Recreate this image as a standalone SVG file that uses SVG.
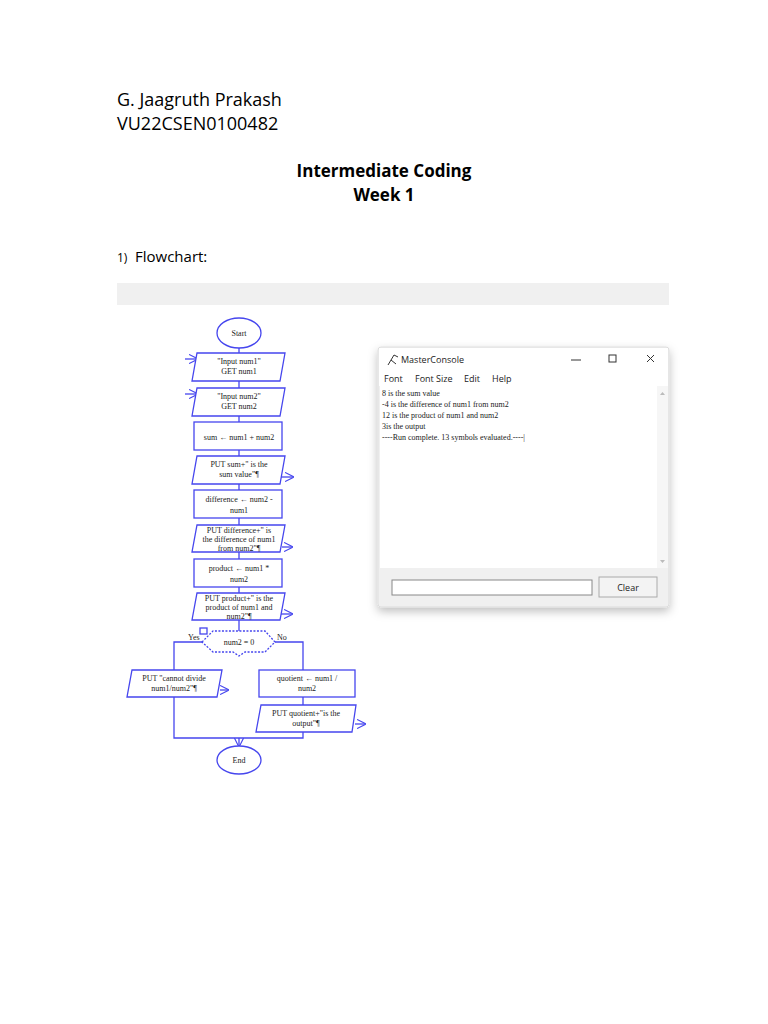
<svg xmlns="http://www.w3.org/2000/svg" width="768" height="1024" viewBox="0 0 768 1024">
<style>
.h{font-family:"Open Sans","Liberation Sans",sans-serif;fill:#000}
.b{fill:#fff;stroke:#4646ee;stroke-width:1.3}
.l{fill:none;stroke:#4646ee;stroke-width:1.3}
.t{font-family:"Liberation Serif",serif;font-size:8px;fill:#222;text-anchor:middle}
.c{font-family:"Liberation Serif",serif;font-size:8px;fill:#222}
.u{font-family:"Open Sans","Liberation Sans",sans-serif;font-size:9px;fill:#222}
</style>
<defs>
<marker id="a" viewBox="0 0 8 8" refX="7" refY="4" markerWidth="7" markerHeight="7" orient="auto"><path d="M0,0L8,4L0,8" fill="none" stroke="#4646ee"/></marker>
<filter id="s" x="-10%" y="-10%" width="120%" height="125%"><feDropShadow dx="0" dy="4" stdDeviation="5" flood-opacity="0.25"/></filter>
</defs>
<rect width="768" height="1024" fill="#fff"/>
<text class="h" x="117" y="106" font-size="18">G. Jaagruth Prakash</text>
<text class="h" x="117" y="130" font-size="18">VU22CSEN0100482</text>
<text class="h" x="384" y="177" font-size="17" font-weight="bold" text-anchor="middle">Intermediate Coding</text>
<text class="h" x="384" y="201" font-size="17" font-weight="bold" text-anchor="middle">Week 1</text>
<text class="h" x="117" y="262" font-size="12">1)</text>
<text class="h" x="135" y="262" font-size="15">Flowchart:</text>
<rect x="117" y="283" width="552" height="22" fill="#f0f0f0"/>
<g id="connectors">
<path class="l" d="M239,348V353M239,381V388M239,416V422M239,450V456M239,484V490M239,518V525M239,552V559M239,587V593M239,620V631"/>
<path class="l" d="M185,359H197" marker-end="url(#a)"/>
<path class="l" d="M185,394H197" marker-end="url(#a)"/>
<path class="l" d="M281,477H293" marker-end="url(#a)"/>
<path class="l" d="M282,547H292" marker-end="url(#a)"/>
<path class="l" d="M281,614H292" marker-end="url(#a)"/>
<path class="l" d="M202,642H174V670M275,642H303V670M303,697V705"/>
<path class="l" d="M220,690H228" marker-end="url(#a)"/>
<path class="l" d="M355,724H365" marker-end="url(#a)"/>
<path class="l" d="M174,697V738H303V732"/>
<path class="l" d="M239,738V746" marker-end="url(#a)"/>
<text class="c" x="188" y="640" font-size="7">Yes</text>
<text class="c" x="277" y="640" font-size="7">No</text>
</g>
<g id="start"><ellipse class="b" cx="239" cy="333" rx="22" ry="15"/><text class="t" x="239" y="336">Start</text></g>
<g id="in1"><polygon class="b" points="197,353 285,353 280,381 192,381"/><text class="t" x="239" y="364">"Input num1"</text><text class="t" x="239" y="374">GET num1</text></g>
<g id="in2"><polygon class="b" points="197,388 285,388 280,416 192,416"/><text class="t" x="239" y="399">"Input  num2"</text><text class="t" x="239" y="409">GET num2</text></g>
<g id="sum"><rect class="b" x="194" y="422" width="88" height="28"/><text class="t" x="239" y="440">sum ← num1 + num2</text></g>
<g id="putsum"><polygon class="b" points="197,456 285,456 280,484 192,484"/><text class="t" x="239" y="467">PUT sum+" is the</text><text class="t" x="239" y="477">sum value"¶</text></g>
<g id="diff"><rect class="b" x="194" y="490" width="88" height="28"/><text class="t" x="239" y="502">difference ← num2 -</text><text class="t" x="239" y="513">num1</text></g>
<g id="putdiff"><polygon class="b" points="197,525 285,525 280,552 192,552"/><text class="t" x="239" y="533">PUT difference+" is</text><text class="t" x="239" y="542">the difference of num1</text><text class="t" x="239" y="551">from num2"¶</text></g>
<g id="prod"><rect class="b" x="194" y="559" width="88" height="28"/><text class="t" x="239" y="571">product ← num1 *</text><text class="t" x="239" y="582">num2</text></g>
<g id="putprod"><polygon class="b" points="197,593 285,593 280,620 192,620"/><text class="t" x="239" y="601">PUT product+" is the</text><text class="t" x="239" y="610">product of num1 and</text><text class="t" x="239" y="619">num2"¶</text></g>
<g id="dec"><polygon class="b" stroke-dasharray="2,1.5" points="202,642 213,631 265,631 275,642 265,652 245,652 239,656 233,652 213,652"/><rect x="200" y="628" width="7" height="6" class="b"/><text class="t" x="239" y="645">num2 = 0</text></g>
<g id="putdiv"><polygon class="b" points="132,670 222,670 217,697 127,697"/><text class="t" x="174" y="681">PUT "cannot divide</text><text class="t" x="174" y="691">num1/num2"¶</text></g>
<g id="quot"><rect class="b" x="259" y="670" width="96" height="27"/><text class="t" x="307" y="681">quotient ← num1  /</text><text class="t" x="307" y="691">num2</text></g>
<g id="putquot"><polygon class="b" points="261,705 356,705 352,732 256,732"/><text class="t" x="306" y="716">PUT quotient+"is the</text><text class="t" x="306" y="726">output"¶</text></g>
<g id="end"><ellipse class="b" cx="239" cy="760" rx="22" ry="14"/><text class="t" x="239" y="763">End</text></g>
<g id="console">
<rect x="378" y="347" width="291" height="260" fill="#f0f0f0" stroke="#ddd" filter="url(#s)" rx="3"/>
<rect x="379" y="348" width="289" height="38" fill="#fff"/>
<path d="M388,365L394,355L398,357M391,360L396,364" stroke="#333" fill="none"/>
<text class="u" x="401" y="363" font-size="10">MasterConsole</text>
<path d="M571,360H581" stroke="#333"/>
<rect x="609" y="355" width="7" height="7" fill="none" stroke="#333"/>
<path d="M647,355L654,362M654,355L647,362" stroke="#333"/>
<text class="u" x="384" y="382">Font</text><text class="u" x="415" y="382">Font Size</text><text class="u" x="464" y="382">Edit</text><text class="u" x="492" y="382">Help</text>
<rect x="380" y="386" width="277" height="182" fill="#fff"/>
<rect x="657" y="386" width="11" height="182" fill="#f6f6f6"/>
<path d="M660,395L662.5,392L665,395ZM660,560L662.5,563L665,560Z" fill="#bbb"/>
<text class="c" x="382" y="396">8 is the sum value</text>
<text class="c" x="382" y="407">-4 is the difference of num1  from num2</text>
<text class="c" x="382" y="418">12 is the product of num1 and num2</text>
<text class="c" x="382" y="429">3is the output</text>
<text class="c" x="382" y="440">----Run complete.  13 symbols evaluated.----|</text>
<rect x="392" y="580" width="200" height="15" fill="#fff" stroke="#888"/>
<rect x="599" y="577" width="58" height="20" fill="#f3f3f3" stroke="#aaa"/>
<text class="u" x="628" y="591" text-anchor="middle">Clear</text>
</g>
</svg>
